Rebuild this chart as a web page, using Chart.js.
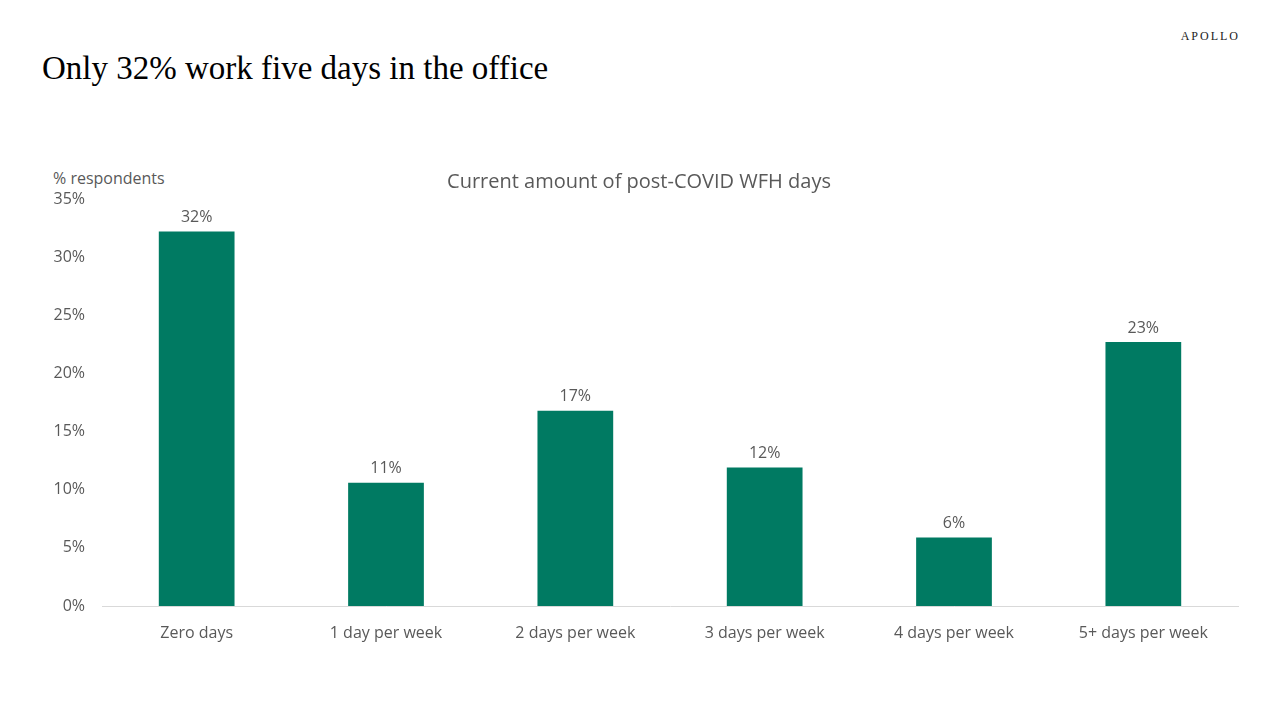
<!DOCTYPE html>
<html>
<head>
<meta charset="utf-8">
<title>Only 32% work five days in the office</title>
<script src="https://cdn.jsdelivr.net/npm/chart.js"></script>
<style>
  body { margin: 0; background: #fff; }
  #page { position: relative; width: 1280px; height: 720px; overflow: hidden; }
  #titulo { position: absolute; left: 42px; top: 50px; font-family: "Liberation Serif", "DejaVu Serif", serif; font-size: 33px; color: #000; }
  #logo { position: absolute; right: 40px; top: 29px; font-family: "Liberation Serif", serif; font-size: 12px; letter-spacing: 2px; color: #222; }
  #unidad { position: absolute; left: 53px; top: 167px; font-family: "Open Sans", sans-serif; font-size: 16px; color: #595959; }
  #caja { position: absolute; left: 40px; top: 160px; width: 1210px; height: 500px; }
</style>
</head>
<body>
<div id="page">
  <div id="titulo">Only 32% work five days in the office</div>
  <div id="logo">APOLLO</div>
  <div id="unidad">% respondents</div>
  <div id="caja"><canvas id="grafica"></canvas></div>
</div>
<script>
// Datos
const categorias = ['Zero days', '1 day per week', '2 days per week', '3 days per week', '4 days per week', '5+ days per week'];
const porcentajes = [32.2, 10.6, 16.8, 11.9, 5.9, 22.7];
const ticksY = [0, 5, 10, 15, 20, 25, 30, 35];

const gris = '#595959';
const fuente = "'Open Sans', sans-serif";

// Etiquetas encima de cada barra
const etiquetasBarras = {
  id: 'etiquetasBarras',
  afterDatasetsDraw(chart) {
    const ctx = chart.ctx;
    const meta = chart.getDatasetMeta(0);
    ctx.save();
    ctx.font = '16px ' + fuente;
    ctx.fillStyle = gris;
    ctx.textAlign = 'center';
    ctx.textBaseline = 'bottom';
    meta.data.forEach(function (barra, i) {
      ctx.fillText(Math.round(porcentajes[i]) + '%', barra.x, barra.y - 6);
    });
    ctx.restore();
  }
};

const grafica = new Chart(document.getElementById('grafica'), {
  type: 'bar',
  data: {
    labels: categorias,
    datasets: [{
      data: porcentajes,
      backgroundColor: '#007A62',
      barPercentage: 0.4,
      categoryPercentage: 1.0
    }]
  },
  options: {
    responsive: true,
    maintainAspectRatio: false,
    animation: false,
    layout: { padding: { right: 12, bottom: 12 } },
    plugins: {
      legend: { display: false },
      tooltip: { enabled: false },
      title: {
        display: true,
        text: 'Current amount of post-COVID WFH days',
        color: gris,
        font: { family: fuente, size: 20, weight: 'normal' },
        padding: { top: 10, bottom: 5 }
      }
    },
    scales: {
      x: {
        grid: { display: false, drawTicks: false },
        border: { display: true, color: '#d9d9d9' },
        ticks: { color: gris, font: { family: fuente, size: 16 }, padding: 18 },
        afterFit(scale) { scale.height = 42; }
      },
      y: {
        min: 0,
        max: 35,
        afterBuildTicks(scale) { scale.ticks = ticksY.map(v => ({ value: v })); },
        grid: { display: false, drawTicks: false },
        border: { display: false },
        ticks: {
          color: gris,
          font: { family: fuente, size: 16 },
          padding: 17,
          callback: v => v + '%'
        },
        afterFit(scale) { scale.width = 62; }
      }
    }
  },
  plugins: [etiquetasBarras]
});
</script>
</body>
</html>
